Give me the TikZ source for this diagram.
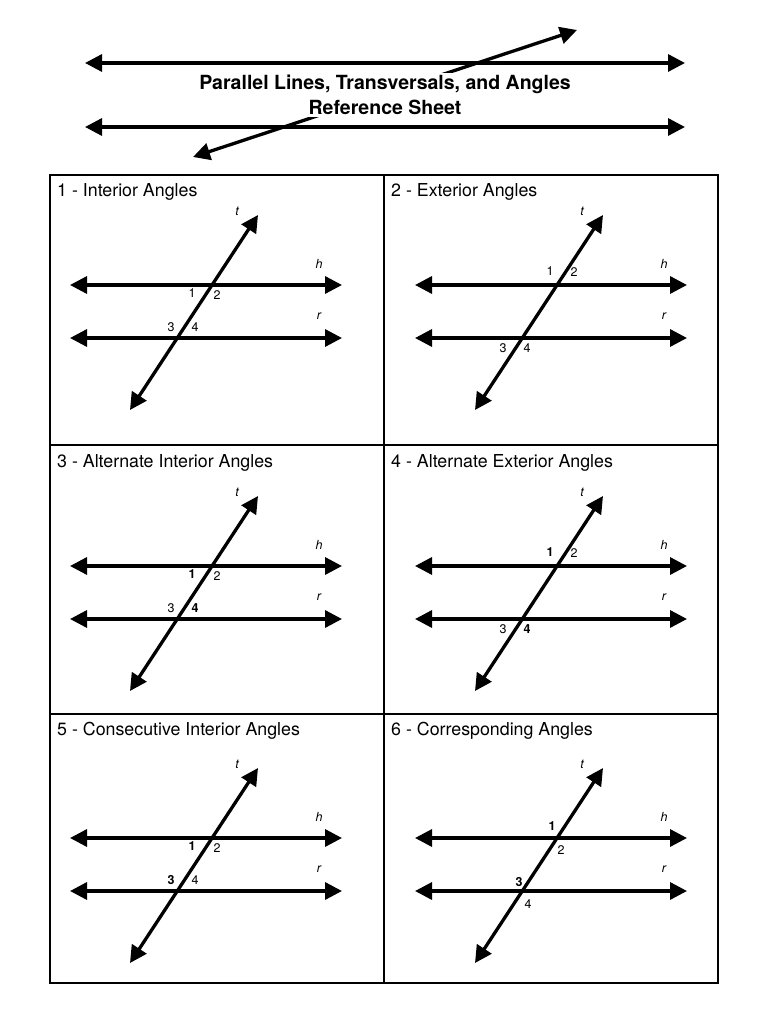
\documentclass[tikz,border=0pt]{standalone}
\usepackage{fontspec}
\setmainfont{TeX Gyre Heros}
\usetikzlibrary{arrows.meta}
\tikzset{
  dbl/.style={line width=3.3pt,{Triangle[length=17pt,width=17pt]}-{Triangle[length=17pt,width=17pt]}},
  frame/.style={line width=2pt},
  num/.style={font=\fontsize{12.5}{14}\selectfont,inner sep=0pt},
  bnum/.style={font=\fontsize{12.5}{14}\selectfont\bfseries,inner sep=0pt},
  lbl/.style={font=\fontsize{12.5}{14}\selectfont\itshape,inner sep=0pt},
  ptitle/.style={font=\fontsize{17.8}{20}\selectfont,anchor=west,inner sep=0pt},
}
% #1 name, #2 x of h-intersection, #3 y of h line, #4 title position, #5 title, #6 label code
\newcommand\mypanel[6]{%
 \node[ptitle] (#1title) at (#4) {#5};
 \begin{scope}[shift={(#2,#3)}]
  \coordinate (#1hl) at (-142,0); \coordinate (#1hr) at (130,0);
  \coordinate (#1rl) at (-142,53); \coordinate (#1rr) at (130,53);
  \coordinate (#1tb) at (-82,125); \coordinate (#1tt) at (46,-70);
  \coordinate (H) at (0,0); \coordinate (R) at (-35,53);
  \draw[dbl] (#1hl) -- (#1hr);
  \draw[dbl] (#1rl) -- (#1rr);
  \draw[dbl] (#1tb) -- (#1tt);
  \node[lbl] (#1t) at (25,-74) {t};
  \node[lbl] (#1h) at (107,-21) {h};
  \node[lbl] (#1r) at (107,31) {r};
  #6
 \end{scope}}
\begin{document}
\begin{tikzpicture}[x=1pt,y=-1pt]
\useasboundingbox (0,0) rectangle (768,1024);
\fill[white] (0,0) rectangle (768,1024);
% header
\coordinate (a1) at (85,63); \coordinate (a2) at (685,63);
\coordinate (b1) at (85,127); \coordinate (b2) at (685,127);
\coordinate (c1) at (193,157); \coordinate (c2) at (577,30);
\draw[dbl] (a1) -- (a2);
\draw[dbl] (b1) -- (b2);
\draw[dbl] (c1) -- (c2);
\node[fill=white,align=center,font=\fontsize{19.5}{25}\selectfont\bfseries,inner sep=2pt] (title) at (385,95) {Parallel Lines, Transversals, and Angles\\Reference Sheet};
% frame
\draw[frame] (50,175) rectangle (718,983);
\draw[frame] (384,175) -- (384,983);
\draw[frame] (50,445) -- (718,445);
\draw[frame] (50,714) -- (718,714);
% panels
\mypanel{p1}{212}{285}{57,192}{1 - Interior Angles}{%
  \node[num] (p1n1) at (-20,8) {1}; \node[num] (p1n2) at (5,10) {2};
  \node[num] (p1n3) at ([shift={(-6,-11)}]R) {3}; \node[num] (p1n4) at ([shift={(18,-11)}]R) {4};}
\mypanel{p2}{557}{285}{391,192}{2 - Exterior Angles}{%
  \node[num] (p2n1) at (-7,-14) {1}; \node[num] (p2n2) at (17,-13) {2};
  \node[num] (p2n3) at ([shift={(-19,10)}]R) {3}; \node[num] (p2n4) at ([shift={(5,10)}]R) {4};}
\mypanel{p3}{212}{566}{57,463}{3 - Alternate Interior Angles}{%
  \node[bnum] (p3n1) at (-20,8) {1}; \node[num] (p3n2) at (5,10) {2};
  \node[num] (p3n3) at ([shift={(-6,-11)}]R) {3}; \node[bnum] (p3n4) at ([shift={(18,-11)}]R) {4};}
\mypanel{p4}{557}{566}{391,463}{4 - Alternate Exterior Angles}{%
  \node[bnum] (p4n1) at (-7,-14) {1}; \node[num] (p4n2) at (17,-13) {2};
  \node[num] (p4n3) at ([shift={(-19,10)}]R) {3}; \node[bnum] (p4n4) at ([shift={(5,10)}]R) {4};}
\mypanel{p5}{212}{838}{57,731}{5 - Consecutive Interior Angles}{%
  \node[bnum] (p5n1) at (-20,8) {1}; \node[num] (p5n2) at (5,10) {2};
  \node[bnum] (p5n3) at ([shift={(-6,-11)}]R) {3}; \node[num] (p5n4) at ([shift={(18,-11)}]R) {4};}
\mypanel{p6}{557}{838}{391,731}{6 - Corresponding Angles}{%
  \node[bnum] (p6n1) at (-5,-12) {1}; \node[num] (p6n2) at (4,12) {2};
  \node[bnum] (p6n3) at ([shift={(-3,-9)}]R) {3}; \node[num] (p6n4) at ([shift={(6,13)}]R) {4};}
\end{tikzpicture}
\end{document}
